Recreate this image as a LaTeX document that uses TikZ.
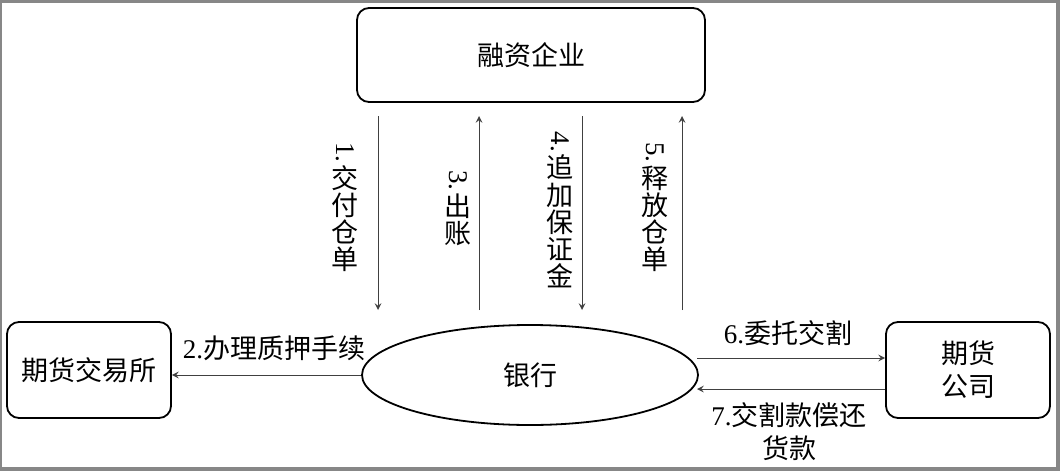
\documentclass[tikz,border=0pt]{standalone}
\usepackage{fontspec}
\setmainfont{Liberation Serif}
\newfontfamily\cjk{Noto Sans CJK SC}
\usetikzlibrary{positioning,arrows,shapes,calc}

\begin{document}
\begin{tikzpicture}[
  x=0.5pt,y=-0.5pt,
  boxnode/.style={rectangle,draw,line width=0.9pt,rounded corners=6pt,inner sep=0pt,align=center,font=\cjk\fontsize{13.5}{16.5}\selectfont},
  banknode/.style={ellipse,draw,line width=0.9pt,inner sep=0pt,minimum width=168pt,minimum height=50pt,font=\cjk\fontsize{13.5}{16.5}\selectfont},
  lab/.style={inner sep=0pt,align=center,font=\cjk\fontsize{13.5}{16.5}\selectfont},
  vlab/.style={inner sep=0pt,align=center,font=\cjk\fontsize{13.5}{13.6}\selectfont},
  arr/.style={->,>=stealth,line width=0.5pt,draw=black!75},
]

% frame
\useasboundingbox (0,0) rectangle (1060,471);
\fill[black!47] (0,0) rectangle (1060,471);
\fill[white] (2,3) rectangle (1056,467);

% === main nodes ===
\node[boxnode,minimum width=174pt,minimum height=47pt] (firm) at (531,55) {融资企业};
\node[banknode] (bank) at (530,375) {银行};
\node[boxnode,minimum width=82pt,minimum height=48pt] (exch) at (89,370) {期货交易所};
\node[boxnode,minimum width=82pt,minimum height=48pt] (fut) at (968,370) {期货\\公司};

% === vertical flows ===
\coordinate (t1) at (378,116); \coordinate (b1) at (378,310);
\coordinate (t3) at (479,116); \coordinate (b3) at (479,310);
\coordinate (t4) at (582,116); \coordinate (b4) at (582,310);
\coordinate (t5) at (682,116); \coordinate (b5) at (682,310);
\draw[arr] (t1) -- (b1);
\draw[arr] (b3) -- (t3);
\draw[arr] (t4) -- (b4);
\draw[arr] (b5) -- (t5);

\node[vlab] (l1) at (345,207) {\rotatebox[origin=c]{-90}{\rmfamily 1.}\\交\\付\\仓\\单};
\node[vlab] (l3) at (458,208) {\rotatebox[origin=c]{-90}{\rmfamily 3.}\\出\\账};
\node[vlab] (l4) at (560,210) {\rotatebox[origin=c]{-90}{\rmfamily 4.}\\追\\加\\保\\证\\金};
\node[vlab] (l5) at (655,207) {\rotatebox[origin=c]{-90}{\rmfamily 5.}\\释\\放\\仓\\单};

% === horizontal flows ===
\draw[arr] (bank.west) -- (bank.west -| exch.east);
\node[lab] (l2) at (274,348) {\rmfamily 2.\cjk 办理质押手续};

\coordinate (s6) at (697,358);
\coordinate (s7) at (697,389);
\draw[arr] (s6) -- (s6 -| fut.west);
\draw[arr] (s7 -| fut.west) -- (s7);
\node[lab] (l6) at (788,333) {\rmfamily 6.\cjk 委托交割};
\node[lab] (l7) at (789,432) {\rmfamily 7.\cjk 交割款偿还\\货款};

\end{tikzpicture}
\end{document}
